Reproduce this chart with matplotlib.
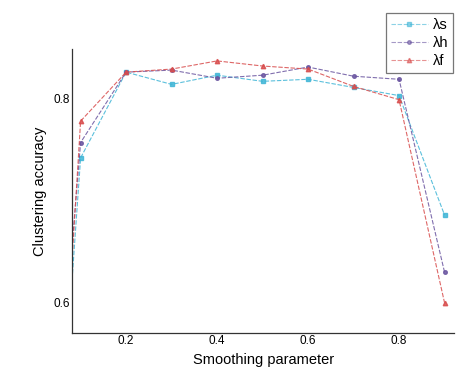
#!/usr/bin/env python3
"""Clustering accuracy vs smoothing parameter for the three lambda settings."""
import matplotlib

matplotlib.use("Agg")
import matplotlib.pyplot as plt  # noqa: E402

plt.rcParams["font.family"] = ["Liberation Sans", "DejaVu Sans"]

smoothing = [0.05, 0.1, 0.2, 0.3, 0.4, 0.5, 0.6, 0.7, 0.8, 0.9]
acc_s = [0.424, 0.742, 0.826, 0.814, 0.823, 0.817, 0.819, 0.811, 0.803, 0.686]
acc_h = [0.488, 0.757, 0.826, 0.828, 0.820, 0.823, 0.831, 0.822, 0.819, 0.630]
acc_f = [0.416, 0.778, 0.826, 0.829, 0.837, 0.832, 0.829, 0.812, 0.799, 0.600]
labels = ["λs", "λh", "λf"]

fig = plt.figure(figsize=(4.74, 3.70), dpi=100)
ax = fig.add_axes([0.1525, 0.1008, 0.8055, 0.766])
series = [(acc_s, "#3fb5d6", "s", 2.6), (acc_h, "#6a55a0", "o", 2.6), (acc_f, "#d84c4c", "^", 3.2)]
for (vals, col, mk, ms), lab in zip(series, labels):
    ax.plot(smoothing, vals, ls=(0, (4, 1.5)), lw=0.8, color=col, alpha=0.85, marker=mk, ms=ms,
            mec=col, mfc=col, label=lab)
ax.set_xlim(0.0817, 0.921)
ax.set_ylim(0.5706, 0.8484)
ax.set_xticks([0.2, 0.4, 0.6, 0.8])
ax.set_yticks([0.6, 0.8])
ax.tick_params(length=0, labelsize=8.5, pad=2)
ax.spines["top"].set_visible(False)
ax.spines["right"].set_visible(False)
for sp in ("left", "bottom"):
    ax.spines[sp].set_color("#333333")
    ax.spines[sp].set_linewidth(0.9)
ax.set_xlabel("Smoothing parameter", fontsize=10.5, labelpad=4)
ax.set_ylabel("Clustering accuracy", fontsize=10.5, labelpad=4)
leg = fig.legend(loc="upper right", bbox_to_anchor=(0.955, 0.964), borderaxespad=0, fontsize=10.5,
                 frameon=True, fancybox=False, edgecolor="#555555", handlelength=2.6,
                 borderpad=0.3, labelspacing=0.3, handletextpad=0.3)
leg.get_frame().set_linewidth(0.9)
for h in leg.get_lines():
    h.set_alpha(0.6)
fig.savefig("out.png", dpi=100)
